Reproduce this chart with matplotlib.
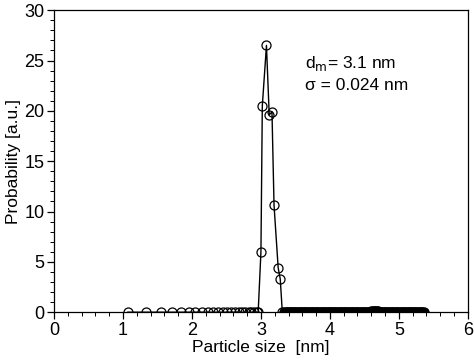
import matplotlib
matplotlib.use("Agg")
import matplotlib.pyplot as plt
from matplotlib.ticker import MultipleLocator

plt.rcParams["font.family"] = ["Liberation Sans", "DejaVu Sans"]

# --- data ---
x_left = [1.07, 1.34, 1.55, 1.71, 1.84, 1.95, 2.05, 2.14, 2.23, 2.31, 2.38,
          2.45, 2.51, 2.57, 2.62, 2.68, 2.73, 2.77, 2.82, 2.86, 2.90, 2.94]
y_left = [0.0] * len(x_left)

x_peak = [2.96, 3.00, 3.02, 3.08, 3.12, 3.16, 3.19, 3.25, 3.28, 3.31]
y_peak = [0.0, 6.0, 20.5, 26.5, 19.6, 19.9, 10.6, 4.4, 3.3, 0.0]

# dense run of near-zero points on the right
x_right = [3.34, 3.36, 3.38, 3.40, 3.42, 3.44, 3.46, 3.48, 3.50, 3.52,
           3.54, 3.56, 3.58, 3.60, 3.62, 3.64, 3.66, 3.68, 3.70, 3.72,
           3.74, 3.76, 3.78, 3.80, 3.82, 3.84, 3.86, 3.88, 3.90, 3.92,
           3.94, 3.96, 3.98, 4.00, 4.02, 4.04, 4.06, 4.08, 4.10, 4.12,
           4.14, 4.16, 4.18, 4.20, 4.22, 4.24, 4.26, 4.28, 4.30, 4.32,
           4.34, 4.36, 4.38, 4.40, 4.42, 4.44, 4.46, 4.48, 4.50, 4.52,
           4.54, 4.56, 4.58, 4.60, 4.62, 4.64, 4.66, 4.68, 4.70, 4.72,
           4.74, 4.76, 4.78, 4.80, 4.82, 4.84, 4.86, 4.88, 4.90, 4.92,
           4.94, 4.96, 4.98, 5.00, 5.02, 5.04, 5.06, 5.08, 5.10, 5.12,
           5.14, 5.16, 5.18, 5.20, 5.22, 5.24, 5.26, 5.28, 5.30, 5.32,
           5.34, 5.36]
y_right = ([0.0] * 63 + [0.08, 0.12, 0.15, 0.15, 0.12, 0.08]
           + [0.0] * 33)

x_all = x_left + x_peak + x_right
y_all = y_left + y_peak + y_right

fig = plt.figure(figsize=(4.74, 3.63), dpi=100)
ax = fig.add_axes([0.114, 0.140, 0.873, 0.832])

ax.plot(x_all, y_all, color="black", lw=1.0, marker="o", ms=6.5,
        mfc="none", mec="black", mew=0.9)
# the right-hand run prints as a solid dark band in the original
ax.plot(x_right, y_right, ls="none", marker="o", ms=5.5,
        mfc="none", mec="black", mew=1.4)

ax.set_xlim(0, 6)
ax.set_ylim(0, 30)
ax.xaxis.set_major_locator(MultipleLocator(1))
ax.xaxis.set_minor_locator(MultipleLocator(0.2))
ax.yaxis.set_major_locator(MultipleLocator(5))
ax.yaxis.set_minor_locator(MultipleLocator(1))
ax.tick_params(which="both", direction="out", top=False, right=False,
               labelsize=13, color="black", pad=2)
ax.tick_params(which="major", length=5, width=0.9)
ax.tick_params(which="minor", length=3, width=0.7)
for s in ax.spines.values():
    s.set_linewidth(0.9)

ax.set_xlabel("Particle size  [nm]", fontsize=12.5, labelpad=1)
ax.set_ylabel("Probability [a.u.]", fontsize=12.5, labelpad=2)

ax.text(3.64, 24.3, r"d$_\mathrm{m}$= 3.1 nm", fontsize=12.5)
ax.text(3.64, 22.1, "\u03c3 = 0.024 nm", fontsize=12.5)

fig.savefig("out.png", dpi=100)
